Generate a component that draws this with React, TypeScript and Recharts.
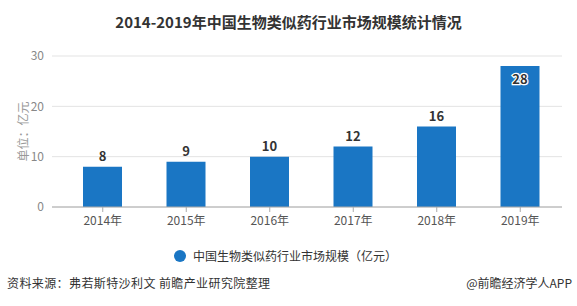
import React from 'react';
import { BarChart, Bar, XAxis, YAxis, CartesianGrid, LabelList } from 'recharts';

const categories = ['2014年', '2015年', '2016年', '2017年', '2018年', '2019年'];
const marketSize = [8, 9, 10, 12, 16, 28];
const yTicks = [0, 10, 20, 30];

const title = '2014-2019年中国生物类似药行业市场规模统计情况';
const seriesName = '中国生物类似药行业市场规模（亿元）';
const unitLabel = '单位：亿元';
const sourceText = '资料来源：弗若斯特沙利文 前瞻产业研究院整理';
const brandText = '@前瞻经济学人APP';

const data = categories.map((c, i) => ({ year: c, value: marketSize[i] }));

const BAR_COLOR = '#1a76c4';
const FONT = '"Microsoft YaHei", "Noto Sans CJK SC", "Noto Sans", sans-serif';

const ValueLabel = (props: any) => {
  const { x, y, width, value, index } = props;
  const cx = x + width / 2;
  if (index === data.length - 1) {
    return (
      <text
        x={cx}
        y={y + 12}
        textAnchor="middle"
        dominantBaseline="central"
        fontSize={13}
        fontWeight="bold"
        fill="#333"
        stroke="#fff"
        strokeWidth={2.5}
        paintOrder="stroke"
        fontFamily={FONT}
      >
        {value}
      </text>
    );
  }
  return (
    <text
      x={cx}
      y={y - 11}
      textAnchor="middle"
      dominantBaseline="central"
      fontSize={13}
      fontWeight="bold"
      fill="#333"
      fontFamily={FONT}
    >
      {value}
    </text>
  );
};

const UnitLabel = (props: any) => {
  const vb = props.viewBox || {};
  const cy = vb.y + vb.height / 2;
  const cx = 22;
  return (
    <text
      x={cx}
      y={cy}
      transform={`rotate(-90 ${cx} ${cy})`}
      textAnchor="middle"
      dominantBaseline="central"
      fontSize={12}
      fill="#999"
      fontFamily={FONT}
    >
      {unitLabel}
    </text>
  );
};

export default function App() {
  return (
    <div
      style={{
        position: 'fixed',
        left: 0,
        top: 0,
        width: 577,
        height: 306,
        background: '#fff',
        fontFamily: FONT,
      }}
    >
      <div
        style={{
          position: 'absolute',
          top: 12,
          left: 0,
          width: 577,
          textAlign: 'center',
          fontSize: 15,
          fontWeight: 'bold',
          color: '#333',
          lineHeight: '20px',
        }}
      >
        {title}
      </div>
      <BarChart
        width={577}
        height={306}
        data={data}
        margin={{ top: 56, right: 15, left: 0, bottom: 69 }}
        style={{ position: 'absolute', left: 0, top: 0 }}
      >
        <CartesianGrid horizontal vertical={false} stroke="#e3e3e3" />
        <XAxis
          dataKey="year"
          height={30}
          padding={{ left: 9, right: 0 }}
          axisLine={{ stroke: '#aaa' }}
          tickLine={{ stroke: '#aaa' }}
          tickSize={5}
          tickMargin={4}
          tick={{ fontSize: 12, fill: '#555', fontFamily: FONT }}
          interval={0}
        />
        <YAxis
          width={52}
          domain={[0, 30]}
          ticks={yTicks}
          axisLine={false}
          tickLine={false}
          tickSize={0}
          tickMargin={8}
          tick={{ fontSize: 12, fill: '#888', fontFamily: FONT }}
          label={<UnitLabel />}
        />
        <Bar dataKey="value" fill={BAR_COLOR} barSize={39} isAnimationActive={false}>
          <LabelList dataKey="value" content={<ValueLabel />} />
        </Bar>
      </BarChart>
      <div
        style={{
          position: 'absolute',
          top: 248,
          left: 174,
          display: 'flex',
          alignItems: 'center',
          fontSize: 12,
          color: '#333',
          lineHeight: '16px',
        }}
      >
        <span
          style={{
            display: 'inline-block',
            width: 12,
            height: 12,
            borderRadius: 6,
            background: BAR_COLOR,
            marginRight: 7,
          }}
        />
        <span>{seriesName}</span>
      </div>
      <div
        style={{
          position: 'absolute',
          top: 275,
          left: 7,
          fontSize: 12,
          color: '#333',
          lineHeight: '16px',
          letterSpacing: 0.4,
        }}
      >
        {sourceText}
      </div>
      <div
        style={{
          position: 'absolute',
          top: 275,
          right: 5,
          fontSize: 12,
          color: '#333',
          lineHeight: '16px',
        }}
      >
        {brandText}
      </div>
    </div>
  );
}
